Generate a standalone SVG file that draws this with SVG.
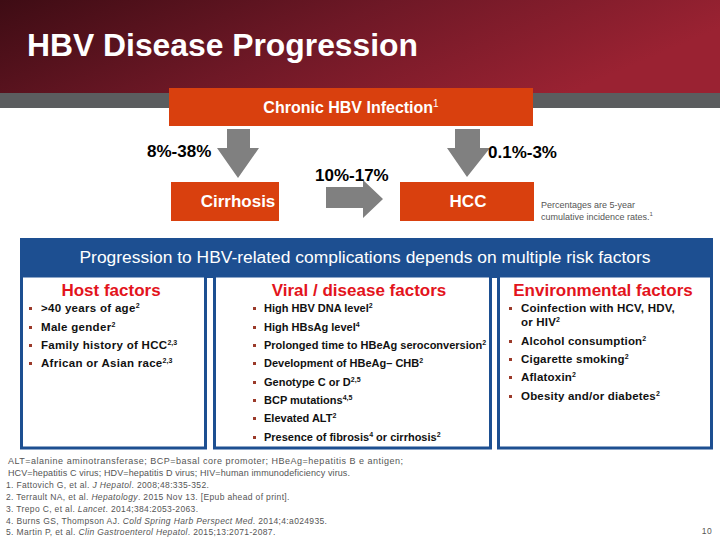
<svg xmlns="http://www.w3.org/2000/svg" width="720" height="540" viewBox="0 0 720 540">
<defs>
<linearGradient id="hdr" x1="0" y1="0" x2="1" y2="0.3">
<stop offset="0" stop-color="#3e0c14"/>
<stop offset="0.5" stop-color="#6e1826"/>
<stop offset="1" stop-color="#9a2232"/>
</linearGradient>
</defs>
<style>
text{font-family:"Liberation Sans",Arial,sans-serif}
.box{fill:#d9400e}
.boxt{fill:#fff;font-weight:bold;text-anchor:middle}
.arr{fill:#808080}
.pct{font-size:17px;font-weight:bold;fill:#000}
.col{fill:#fff;stroke:#1d4f91;stroke-width:3}
.colh{fill:#e3141c;font-size:17px;font-weight:bold;text-anchor:middle}
.it{font-size:11px;font-weight:bold;fill:#111}
.env{font-size:11.5px;letter-spacing:0.2px}
.host{font-size:11.5px;letter-spacing:0.3px}
.sup{font-size:7px;letter-spacing:0}
.bul{fill:#9b3a2a}
.fn{font-size:9px;fill:#555}
.ref{font-size:8.5px;fill:#555;letter-spacing:0.35px}
</style>
<rect width="720" height="540" fill="#fff"/>
<g id="header">
<rect x="0" y="0" width="720" height="94" fill="url(#hdr)"/>
<rect x="0" y="93" width="720" height="15" fill="#5b5d5f"/>
<text x="27" y="56" font-size="31" font-weight="bold" fill="#fff" textLength="391" lengthAdjust="spacingAndGlyphs">HBV Disease Progression</text>
</g>
<g id="connectors">
<polygon class="arr" points="227,129 250,129 250,148 259,148 238,178 217,148 227,148"/>
<polygon class="arr" points="455,129 480,129 480,148 490,148 467,177 447,148 455,148"/>
<polygon class="arr" points="326,187 363,187 363,180 383,199 363,218 363,208 326,208"/>
<text class="pct" x="147" y="157">8%-38%</text>
<text class="pct" x="488" y="158">0.1%-3%</text>
<text class="pct" x="315" y="181">10%-17%</text>
</g>
<g id="chronic">
<rect class="box" x="169" y="88" width="364" height="38"/>
<text class="boxt" x="351" y="113" font-size="16">Chronic HBV Infection<tspan font-size="10" font-weight="normal" dy="-6">1</tspan></text>
</g>
<g id="cirrhosis">
<rect class="box" x="171" y="182" width="108" height="39"/>
<text class="boxt" x="238" y="207" font-size="17">Cirrhosis</text>
</g>
<g id="hcc">
<rect class="box" x="400" y="182" width="134" height="39"/>
<text class="boxt" x="468" y="207" font-size="17">HCC</text>
</g>
<g id="note">
<text x="541" y="208" font-size="9" fill="#555">Percentages are 5-year</text>
<text x="541" y="220" font-size="9" fill="#555">cumulative incidence rates.<tspan font-size="6" dy="-4">1</tspan></text>
</g>
<g id="risk-panel">
<rect x="20" y="238" width="693" height="40" fill="#1d4f91"/>
<text x="365" y="263" font-size="16" fill="#fff" text-anchor="middle" textLength="571" lengthAdjust="spacingAndGlyphs">Progression to HBV-related complications depends on multiple risk factors</text>
</g>
<g id="host">
<rect class="col" x="21.5" y="276" width="184" height="172"/>
<text class="colh" x="111" y="296">Host factors</text>
<rect class="bul" x="29" y="307" width="3" height="3"/>
<rect class="bul" x="29" y="326" width="3" height="3"/>
<rect class="bul" x="29" y="344" width="3" height="3"/>
<rect class="bul" x="29" y="362" width="3" height="3"/>
<text class="it host" x="41" y="312">&gt;40 years of age<tspan class="sup" dy="-4">2</tspan></text>
<text class="it host" x="41" y="331">Male gender<tspan class="sup" dy="-4">2</tspan></text>
<text class="it host" x="41" y="349">Family history of HCC<tspan class="sup" dy="-4">2,3</tspan></text>
<text class="it host" x="41" y="367">African or Asian race<tspan class="sup" dy="-4">2,3</tspan></text>
</g>
<g id="viral">
<rect class="col" x="214.5" y="276" width="276" height="172"/>
<text class="colh" x="359" y="296">Viral / disease factors</text>
<rect class="bul" x="253" y="307" width="3" height="3"/>
<rect class="bul" x="253" y="326" width="3" height="3"/>
<rect class="bul" x="253" y="344" width="3" height="3"/>
<rect class="bul" x="253" y="362" width="3" height="3"/>
<rect class="bul" x="253" y="381" width="3" height="3"/>
<rect class="bul" x="253" y="399" width="3" height="3"/>
<rect class="bul" x="253" y="417" width="3" height="3"/>
<rect class="bul" x="253" y="436" width="3" height="3"/>
<text class="it" x="264" y="312">High HBV DNA level<tspan class="sup" dy="-4">2</tspan></text>
<text class="it" x="264" y="331">High HBsAg level<tspan class="sup" dy="-4">4</tspan></text>
<text class="it" x="264" y="349">Prolonged time to HBeAg seroconversion<tspan class="sup" dy="-4">2</tspan></text>
<text class="it" x="264" y="367">Development of HBeAg– CHB<tspan class="sup" dy="-4">2</tspan></text>
<text class="it" x="264" y="386">Genotype C or D<tspan class="sup" dy="-4">2,5</tspan></text>
<text class="it" x="264" y="404">BCP mutations<tspan class="sup" dy="-4">4,5</tspan></text>
<text class="it" x="264" y="422">Elevated ALT<tspan class="sup" dy="-4">2</tspan></text>
<text class="it" x="264" y="441">Presence of fibrosis<tspan class="sup" dy="-4">4</tspan><tspan dy="4"> or cirrhosis</tspan><tspan class="sup" dy="-4">2</tspan></text>
</g>
<g id="environmental">
<rect class="col" x="498.5" y="276" width="213" height="172"/>
<text class="colh" x="603" y="296">Environmental factors</text>
<rect class="bul" x="509" y="307" width="3" height="3"/>
<rect class="bul" x="509" y="340" width="3" height="3"/>
<rect class="bul" x="509" y="358" width="3" height="3"/>
<rect class="bul" x="509" y="376" width="3" height="3"/>
<rect class="bul" x="509" y="395" width="3" height="3"/>
<text class="it env" x="521" y="312">Coinfection with HCV, HDV,</text>
<text class="it env" x="521" y="326">or HIV<tspan class="sup" dy="-4">2</tspan></text>
<text class="it env" x="521" y="345">Alcohol consumption<tspan class="sup" dy="-4">2</tspan></text>
<text class="it env" x="521" y="363">Cigarette smoking<tspan class="sup" dy="-4">2</tspan></text>
<text class="it env" x="521" y="381">Aflatoxin<tspan class="sup" dy="-4">2</tspan></text>
<text class="it env" x="521" y="400">Obesity and/or diabetes<tspan class="sup" dy="-4">2</tspan></text>
</g>
<g id="footnotes">
<text class="fn" x="8" y="464" textLength="395">ALT=alanine aminotransferase; BCP=basal core promoter; HBeAg=hepatitis B e antigen;</text>
<text class="fn" x="8" y="476" textLength="342">HCV=hepatitis C virus; HDV=hepatitis D virus; HIV=human immunodeficiency virus.</text>
<text class="ref" x="6" y="488">1.  Fattovich G, et al. <tspan font-style="italic">J Hepatol</tspan>. 2008;48:335-352.</text>
<text class="ref" x="6" y="500">2.  Terrault NA, et al. <tspan font-style="italic">Hepatology</tspan>. 2015 Nov 13. [Epub ahead of print].</text>
<text class="ref" x="6" y="512">3.  Trepo C, et al. <tspan font-style="italic">Lancet</tspan>. 2014;384:2053-2063.</text>
<text class="ref" x="6" y="524">4.  Burns GS, Thompson AJ. <tspan font-style="italic">Cold Spring Harb Perspect Med</tspan>. 2014;4:a024935.</text>
<text class="ref" x="6" y="535">5.  Martin P, et al. <tspan font-style="italic">Clin Gastroenterol Hepatol</tspan>. 2015;13:2071-2087.</text>
<text class="ref" x="712" y="534" text-anchor="end">10</text>
</g>
</svg>
